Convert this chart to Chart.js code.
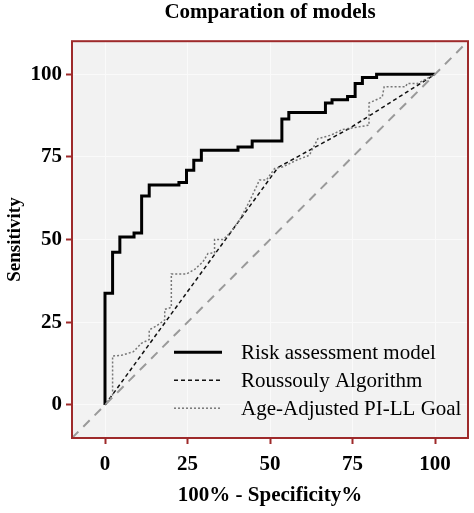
<!DOCTYPE html>
<html>
<head>
<meta charset="utf-8">
<script src="https://cdn.jsdelivr.net/npm/chart.js@4.4.1/dist/chart.umd.min.js"></script>
<style>
  body { margin: 0; background: #fff; }
  #wrap { width: 474px; height: 513px; position: relative; }
</style>
</head>
<body>
<div id="wrap"><canvas id="myChart"></canvas></div>
<script>
const tickVals = [0, 25, 50, 75, 100];

// Risk assessment model (step ROC curve)
const riskX = [0, 0, 2.3, 2.3, 4.5, 4.5, 8.8, 8.8, 11.1, 11.1, 13.4, 13.4, 22.4, 22.4, 24.7, 24.7, 26.9, 26.9, 29.2, 29.2, 40.3, 40.3, 44.6, 44.6, 53.6, 53.6, 55.7, 55.7, 66.8, 66.8, 68.8, 68.8, 73.5, 73.5, 75.8, 75.8, 78, 78, 82.3, 82.3, 100];
const riskY = [0, 33.8, 33.8, 46.2, 46.2, 50.8, 50.8, 52, 52, 63.2, 63.2, 66.5, 66.5, 67.3, 67.3, 71, 71, 74, 74, 77, 77, 78, 78, 79.8, 79.8, 86.5, 86.5, 88.4, 88.4, 91.3, 91.3, 92.3, 92.3, 93.3, 93.3, 97.2, 97.2, 99, 99, 100, 100];

// Roussouly Algorithm
const rouX = [0, 52.4, 74, 100];
const rouY = [0, 71.8, 83.6, 100];

// Age-Adjusted PI-LL Goal
const ageX = [0, 2.3, 2.3, 5, 8.6, 11, 13.4, 13.4, 15.6, 18.1, 18.1, 20.1, 20.1, 24.7, 27.2, 29.7, 31.2, 33.2, 33.2, 35.7, 37.8, 40.8, 44, 46.8, 48.9, 51.4, 53.9, 58, 61.9, 64.5, 68.5, 72, 80, 80, 84, 84.6, 91.1, 91.6, 94.7, 100];
const ageY = [0, 3, 14.8, 15, 16.1, 18.6, 19.8, 22.7, 23.9, 25.7, 28.9, 29.5, 39.6, 39.6, 41, 43.3, 45.8, 46, 50, 50, 51.9, 55.9, 62, 68, 68, 71.5, 72, 74, 75.5, 80.5, 81.6, 83.3, 84.6, 91.3, 93.1, 96.2, 96.2, 97.2, 97.2, 100];

// reference diagonal
const diagX = [-10, 110];
const diagY = [-10, 110];

const legendOrder = ['Risk assessment model', 'Roussouly Algorithm', 'Age-Adjusted PI-LL Goal'];

const toPts = (xs, ys) => xs.map((x, i) => ({ x: x, y: ys[i] }));

const frameColor = '#9e2a2b';
const serif = '"Liberation Serif", "Times New Roman", serif';

const panelBg = {
  id: 'panelBg',
  beforeDraw(chart) {
    const { ctx, chartArea: a } = chart;
    ctx.save();
    ctx.fillStyle = '#f2f2f2';
    ctx.fillRect(a.left, a.top, a.right - a.left, a.bottom - a.top);
    ctx.restore();
  },
  afterDraw(chart) {
    const { ctx, chartArea: a } = chart;
    ctx.save();
    ctx.strokeStyle = frameColor;
    ctx.lineWidth = 2;
    ctx.strokeRect(a.left, a.top, a.right - a.left, a.bottom - a.top);
    ctx.restore();
  }
};

// legend sits inside the panel, bottom right
const insideLegend = {
  id: 'insideLegend',
  afterDatasetsDraw(chart) {
    const { ctx, chartArea: a } = chart;
    ctx.save();
    ctx.font = '21px ' + serif;
    ctx.textBaseline = 'middle';
    legendOrder.forEach((name, i) => {
      const d = chart.data.datasets.find(ds => ds.label === name);
      const y = a.top + 311 + i * 28;
      ctx.strokeStyle = d.borderColor;
      ctx.lineWidth = d.borderWidth;
      ctx.setLineDash(d.borderDash || []);
      ctx.beginPath();
      ctx.moveTo(a.left + 102, y);
      ctx.lineTo(a.left + 150, y);
      ctx.stroke();
      ctx.setLineDash([]);
      ctx.fillStyle = '#000';
      ctx.fillText(name, a.left + 169, y + 1);
    });
    ctx.restore();
  }
};

const data = {
  datasets: [
    {
      label: '',
      data: toPts(diagX, diagY),
      borderColor: '#9a9a9a',
      borderWidth: 2,
      borderDash: [9, 7],
    },
    {
      label: 'Age-Adjusted PI-LL Goal',
      data: toPts(ageX, ageY),
      borderColor: '#777',
      borderWidth: 1.5,
      borderDash: [2, 2],
    },
    {
      label: 'Roussouly Algorithm',
      data: toPts(rouX, rouY),
      borderColor: '#111',
      borderWidth: 1.5,
      borderDash: [4, 3],
    },
    {
      label: 'Risk assessment model',
      data: toPts(riskX, riskY),
      borderColor: '#000',
      borderWidth: 3,
    },
  ]
};
data.datasets.forEach(d => { d.pointRadius = 0; d.fill = false; d.tension = 0; });

const axisCommon = (fitKey, fitVal) => ({
  type: 'linear',
  min: -10,
  max: 110,
  afterBuildTicks: s => { s.ticks = tickVals.map(v => ({ value: v })); },
  afterFit: s => { s[fitKey] = fitVal; },
  grid: {
    color: '#fafafa',
    lineWidth: 1,
    tickColor: frameColor,
    tickLength: 6,
    tickWidth: 2,
  },
  border: { display: false },
});

const xAxis = axisCommon('height', 75);
xAxis.ticks = { color: '#000', font: { family: serif, size: 21, weight: 'bold' }, padding: 8 };
xAxis.title = { display: true, text: '100% - Specificity%', color: '#000', font: { family: serif, size: 21, weight: 'bold' }, padding: { top: 0, bottom: 5 } };

const yAxis = axisCommon('width', 72);
yAxis.ticks = { color: '#000', font: { family: serif, size: 21, weight: 'bold' }, padding: 4 };
yAxis.title = { display: true, text: 'Sensitivity', color: '#000', font: { family: serif, size: 19, weight: 'bold' }, padding: { top: 4, bottom: 0 } };

const config = {
  type: 'line',
  data: data,
  options: {
    responsive: true,
    maintainAspectRatio: false,
    animation: false,
    layout: { padding: { left: 0, right: 6, top: 0, bottom: 0 } },
    scales: { x: xAxis, y: yAxis },
    plugins: {
      legend: { display: false },
      tooltip: { enabled: false },
      title: {
        display: true,
        fullSize: false,
        text: 'Comparation of models',
        color: '#000',
        font: { family: serif, size: 21, weight: 'bold' },
        padding: { top: 0, bottom: 16 },
      },
    }
  },
  plugins: [panelBg, insideLegend]
};

const myChart = new Chart(document.getElementById('myChart'), config);
</script>
</body>
</html>
